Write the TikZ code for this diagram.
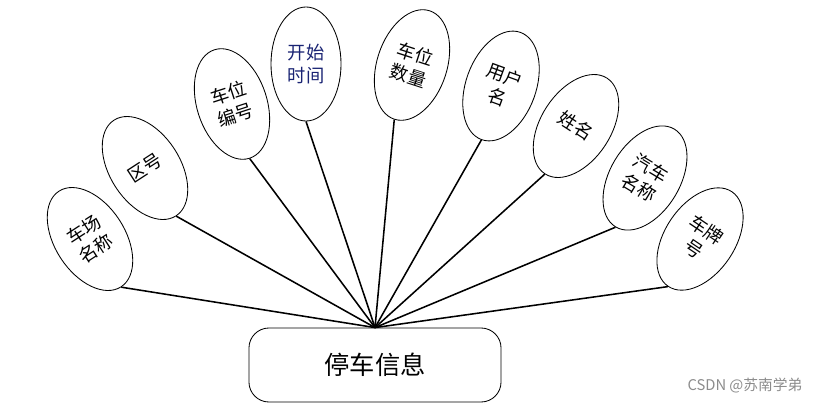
\documentclass[tikz,border=0pt]{standalone}
\usepackage{fontspec}
\newfontfamily\cjk{Noto Sans CJK SC}
\usetikzlibrary{shapes.geometric}

\begin{document}
\begin{tikzpicture}[x=0.025cm, y=0.025cm,
    attr/.style={ellipse, draw, line width=0.6pt, inner sep=0pt,
      minimum width=1.75cm, minimum height=2.85cm, align=center,
      font=\cjk\fontsize{13}{16}\selectfont},
    entity/.style={rectangle, draw, line width=0.6pt, rounded corners=0.5cm,
      minimum width=6.3cm, minimum height=1.85cm,
      font=\cjk\fontsize{18}{20}\selectfont},
    link/.style={line width=1.1pt}]
  \useasboundingbox (0,0) rectangle (832,404);
  % entity
  \node[entity] (info) at (375,39) {停车信息};
  % attributes, left to right
  \node[attr, rotate=33]  (yard)  at (90,165)  {车场\\名称};
  \node[attr, rotate=33]  (zone)  at (145,236) {区号};
  \node[attr, rotate=18]  (slot)  at (232,300) {车位\\编号};
  \node[attr, text={rgb,255:red,25;green,35;blue,115}] (start) at (306,340) {开始\\时间};
  \node[attr, rotate=-18] (count) at (412,339) {车位\\数量};
  \node[attr, rotate=-20] (user)  at (501,318) {用户\\名};
  \node[attr, rotate=-33] (name)  at (576,278) {姓名};
  \node[attr, rotate=-31] (car)   at (645,226) {汽车\\名称};
  \node[attr, rotate=-34] (plate) at (700,165) {车牌\\号};
  % connectors
  \foreach \a in {yard,zone,slot,start,count,user,name,car,plate}
    \draw[link] (info.north) -- (\a.south);
  % watermark
  \node[font=\cjk\fontsize{10.5}{12}\selectfont, text=black!45] (mark) at (745,19) {CSDN @苏南学弟};
\end{tikzpicture}
\end{document}
